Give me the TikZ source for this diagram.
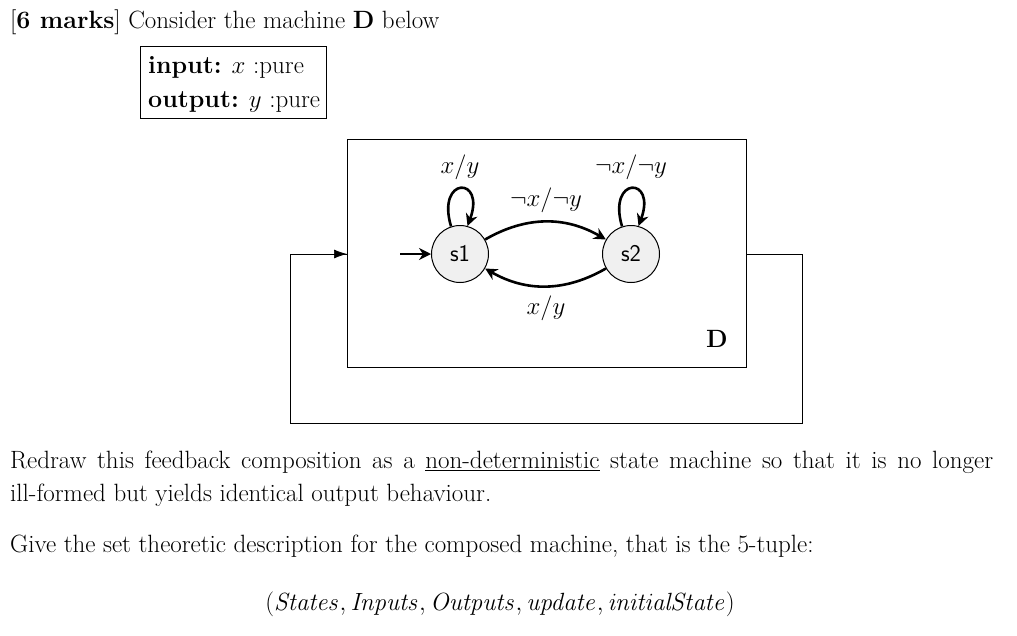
\documentclass[tikz,border=0pt]{standalone}
\usetikzlibrary{arrows.meta,automata}
\begin{document}
\begin{tikzpicture}[x=1pt,y=-1pt,font=\fontsize{25}{33}\selectfont,
  st/.style={circle,draw,fill=black!6,minimum size=57pt,inner sep=0pt,font=\fontsize{24}{28}\selectfont\sffamily,line width=1pt},
  tr/.style={line width=2.6pt,-{Stealth[length=12pt,width=12pt]}},
  fb/.style={line width=0.7pt},
  lbl/.style={inner sep=0pt,anchor=base}]
\useasboundingbox (0,0) rectangle (1017,635);
\node[lbl,anchor=base west] (title) at (10,28) {[\textbf{6 marks}] Consider the machine \textbf{D} below};
\node[draw,line width=0.8pt,anchor=north west,minimum width=186pt,minimum height=72pt,inner sep=0pt] (io) at (140,46) {};
\node[lbl,anchor=base west] (in) at (148,73) {\textbf{input:} $x$ :pure};
\node[lbl,anchor=base west] (out) at (148,107) {\textbf{output:} $y$ :pure};
\node[draw,line width=0.8pt,anchor=north west,minimum width=399pt,minimum height=228pt,inner sep=0pt] (D) at (347,139) {};
\node[lbl] (Dl) at (717,347) {\textbf{D}};
\node[st] (s1) at (460,254) {s1};
\node[st] (s2) at (631,254) {s2};
\coordinate (init) at (400,254);
\draw[tr] (init) -- (s1);
\draw[tr] (s1) to[out=30,in=150] (s2);
\draw[tr] (s2) to[out=210,in=-30] (s1);
\draw[tr] (s1.108) .. controls (436,176) and (486,176) .. (s1.75);
\draw[tr] (s2.108) .. controls (607,176) and (657,176) .. (s2.75);
\node[lbl] (l1) at (460,173) {$x/y$};
\node[lbl] (l2) at (631,173) {$\neg x/\neg y$};
\node[lbl] (l3) at (546,206) {$\neg x/\neg y$};
\node[lbl] (l4) at (546,314) {$x/y$};
\coordinate (a) at (802,254); \coordinate (b) at (802,423);
\coordinate (c) at (290,423); \coordinate (d) at (290,254);
\draw[fb] (D.east |- s1) -- (a) -- (b) -- (c) -- (d) -- (D.west |- s1);
\draw[-{Latex[length=13pt,width=9pt]},line width=0.7pt] (330,254) -- (D.west |- s1);
\node[inner sep=0pt,anchor=north west,text width=983pt,align=justify] (p1) at (10,451) {Redraw this feedback composition as a \underline{non-deterministic} state machine so that it is no longer\linebreak ill-formed but yields identical output behaviour.};
\node[lbl,anchor=base west] (p2) at (10,552) {Give the set theoretic description for the composed machine, that is the 5-tuple:};
\node[lbl] (tup) at (500,610) {$(\mathit{States}, \mathit{Inputs}, \mathit{Outputs}, \mathit{update}, \mathit{initialState})$};
\end{tikzpicture}
\end{document}
